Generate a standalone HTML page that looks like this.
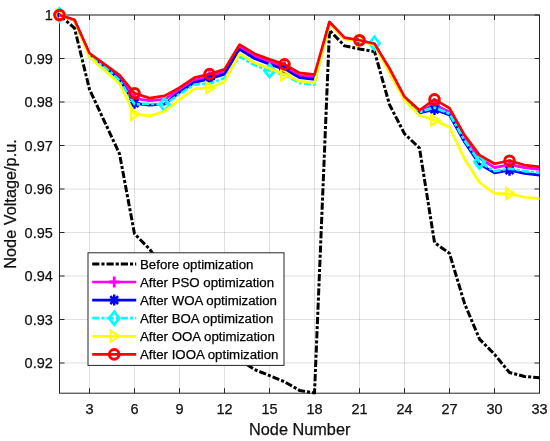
<!DOCTYPE html>
<html><head><meta charset="utf-8"><title>Node Voltage</title>
<style>
html,body{margin:0;padding:0;background:#fff;}
body{width:550px;height:441px;overflow:hidden;}
svg{display:block;}
text{font-family:"Liberation Sans",Arial,Helvetica,sans-serif;fill:#111;stroke:#111;stroke-width:0.25px;}
.tk{font-size:14.5px;}
.lb{font-size:16.3px;}
.lg{font-size:13.25px;fill:#000;stroke:#000;}
</style></head><body>
<svg width="550" height="441" viewBox="0 0 550 441">
<rect x="0" y="0" width="550" height="441" fill="#ffffff"/>

<path d="M89.50 15.00V393.20M134.50 15.00V393.20M179.50 15.00V393.20M224.50 15.00V393.20M269.50 15.00V393.20M314.50 15.00V393.20M359.50 15.00V393.20M404.50 15.00V393.20M449.50 15.00V393.20M494.50 15.00V393.20M539.50 15.00V393.20" stroke="#262626" stroke-opacity="0.15" stroke-width="1" fill="none"/>
<path d="M59.50 15.00H539.50M59.50 58.50H539.50M59.50 102.00H539.50M59.50 145.50H539.50M59.50 189.00H539.50M59.50 232.50H539.50M59.50 276.00H539.50M59.50 319.50H539.50M59.50 363.00H539.50" stroke="#262626" stroke-opacity="0.15" stroke-width="1" fill="none"/>
<path d="M89.50 393.20v-5.0M89.50 15.00v5.0M134.50 393.20v-5.0M134.50 15.00v5.0M179.50 393.20v-5.0M179.50 15.00v5.0M224.50 393.20v-5.0M224.50 15.00v5.0M269.50 393.20v-5.0M269.50 15.00v5.0M314.50 393.20v-5.0M314.50 15.00v5.0M359.50 393.20v-5.0M359.50 15.00v5.0M404.50 393.20v-5.0M404.50 15.00v5.0M449.50 393.20v-5.0M449.50 15.00v5.0M494.50 393.20v-5.0M494.50 15.00v5.0M539.50 393.20v-5.0M539.50 15.00v5.0M59.50 15.00h5.0M539.50 15.00h-5.0M59.50 58.50h5.0M539.50 58.50h-5.0M59.50 102.00h5.0M539.50 102.00h-5.0M59.50 145.50h5.0M539.50 145.50h-5.0M59.50 189.00h5.0M539.50 189.00h-5.0M59.50 232.50h5.0M539.50 232.50h-5.0M59.50 276.00h5.0M539.50 276.00h-5.0M59.50 319.50h5.0M539.50 319.50h-5.0M59.50 363.00h5.0M539.50 363.00h-5.0" stroke="#262626" stroke-width="1" fill="none"/>
<rect x="59.5" y="15.0" width="480.0" height="378.2" stroke="#262626" stroke-width="1" fill="none"/>
<clipPath id="ax"><rect x="58.0" y="13.5" width="483.0" height="381.2"/></clipPath>
<polyline points="59.50,15.00 74.50,28.05 89.50,89.39 104.50,121.57 119.50,153.77 134.50,233.81 149.50,249.03 164.50,270.34 179.50,297.31 194.50,322.98 209.50,326.46 224.50,332.99 239.50,359.52 254.50,369.53 269.50,375.61 284.50,381.71 299.50,390.41 314.50,393.01 329.50,30.22 344.50,45.88 359.50,48.93 374.50,51.54 389.50,104.61 404.50,133.75 419.50,148.11 434.50,242.51 449.50,253.38 464.50,303.41 479.50,339.08 494.50,354.30 509.50,372.57 524.50,376.48 539.50,377.79" stroke="#000000" stroke-width="3.0" fill="none" stroke-linejoin="round" stroke-dasharray="7.2 2 3.1 2" clip-path="url(#ax)"/>
<polyline points="59.50,15.00 74.50,20.22 89.50,54.15 104.50,65.02 119.50,77.20 134.50,98.52 149.50,100.70 164.50,99.39 179.50,90.25 194.50,80.25 209.50,76.77 224.50,71.98 239.50,47.19 254.50,56.32 269.50,61.98 284.50,66.77 299.50,75.47 314.50,77.20 329.50,22.40 344.50,38.05 359.50,40.67 374.50,44.15 389.50,69.81 404.50,97.65 419.50,111.57 434.50,104.61 449.50,112.00 464.50,138.54 479.50,158.12 494.50,167.69 509.50,164.64 524.50,167.69 539.50,169.42" stroke="#ff00ff" stroke-width="2.7" fill="none" stroke-linejoin="round" clip-path="url(#ax)"/>
<path d="M54.10 15.00H64.90M59.50 9.60V20.40" stroke="#ff00ff" stroke-width="2.8" fill="none"/>
<path d="M129.10 98.52H139.90M134.50 93.12V103.92" stroke="#ff00ff" stroke-width="2.8" fill="none"/>
<path d="M204.10 76.77H214.90M209.50 71.37V82.17" stroke="#ff00ff" stroke-width="2.8" fill="none"/>
<path d="M279.10 66.77H289.90M284.50 61.37V72.17" stroke="#ff00ff" stroke-width="2.8" fill="none"/>
<path d="M354.10 40.67H364.90M359.50 35.27V46.07" stroke="#ff00ff" stroke-width="2.8" fill="none"/>
<path d="M429.10 104.61H439.90M434.50 99.21V110.01" stroke="#ff00ff" stroke-width="2.8" fill="none"/>
<path d="M504.10 164.64H514.90M509.50 159.24V170.04" stroke="#ff00ff" stroke-width="2.8" fill="none"/>
<polyline points="59.50,15.00 74.50,20.22 89.50,55.02 104.50,66.33 119.50,79.38 134.50,103.30 149.50,105.05 164.50,104.17 179.50,92.43 194.50,82.42 209.50,78.95 224.50,74.16 239.50,49.37 254.50,58.50 269.50,64.15 284.50,69.37 299.50,77.64 314.50,79.38 329.50,22.83 344.50,38.49 359.50,40.67 374.50,44.15 389.50,70.68 404.50,98.52 419.50,112.87 434.50,109.40 449.50,115.05 464.50,142.02 479.50,164.20 494.50,172.91 509.50,170.29 524.50,173.34 539.50,175.08" stroke="#0000ff" stroke-width="2.7" fill="none" stroke-linejoin="round" clip-path="url(#ax)"/>
<path d="M54.00 15.00H65.00M59.50 9.50V20.50M55.60 11.10L63.40 18.90M55.60 18.90L63.40 11.10" stroke="#0000ff" stroke-width="2.5" fill="none"/>
<path d="M129.00 103.30H140.00M134.50 97.80V108.80M130.60 99.40L138.40 107.20M130.60 107.20L138.40 99.40" stroke="#0000ff" stroke-width="2.5" fill="none"/>
<path d="M204.00 78.95H215.00M209.50 73.45V84.45M205.60 75.05L213.40 82.85M205.60 82.85L213.40 75.05" stroke="#0000ff" stroke-width="2.5" fill="none"/>
<path d="M279.00 69.37H290.00M284.50 63.87V74.87M280.60 65.47L288.40 73.27M280.60 73.27L288.40 65.47" stroke="#0000ff" stroke-width="2.5" fill="none"/>
<path d="M354.00 40.67H365.00M359.50 35.17V46.17M355.60 36.77L363.40 44.57M355.60 44.57L363.40 36.77" stroke="#0000ff" stroke-width="2.5" fill="none"/>
<path d="M429.00 109.40H440.00M434.50 103.90V114.90M430.60 105.50L438.40 113.30M430.60 113.30L438.40 105.50" stroke="#0000ff" stroke-width="2.5" fill="none"/>
<path d="M504.00 170.29H515.00M509.50 164.79V175.79M505.60 166.39L513.40 174.19M505.60 174.19L513.40 166.39" stroke="#0000ff" stroke-width="2.5" fill="none"/>
<polyline points="59.50,15.00 74.50,20.22 89.50,55.02 104.50,66.77 119.50,80.25 134.50,104.17 149.50,103.74 164.50,104.61 179.50,94.17 194.50,84.60 209.50,83.73 224.50,78.07 239.50,56.76 254.50,65.02 269.50,70.68 284.50,75.03 299.50,82.86 314.50,84.60 329.50,22.83 344.50,38.49 359.50,40.67 374.50,43.27 389.50,70.68 404.50,98.52 419.50,112.00 434.50,107.65 449.50,113.75 464.50,140.28 479.50,162.03 494.50,171.17 509.50,168.55 524.50,171.17 539.50,172.47" stroke="#00ffff" stroke-width="2.7" fill="none" stroke-linejoin="round" stroke-dasharray="7.2 2 3.1 2" clip-path="url(#ax)"/>
<path d="M59.50 8.50L64.60 15.00L59.50 21.50L54.40 15.00Z" stroke="#00ffff" stroke-width="2.7" fill="none" stroke-linejoin="miter"/>
<path d="M164.50 98.11L169.60 104.61L164.50 111.11L159.40 104.61Z" stroke="#00ffff" stroke-width="2.7" fill="none" stroke-linejoin="miter"/>
<path d="M269.50 64.18L274.60 70.68L269.50 77.18L264.40 70.68Z" stroke="#00ffff" stroke-width="2.7" fill="none" stroke-linejoin="miter"/>
<path d="M374.50 36.77L379.60 43.27L374.50 49.77L369.40 43.27Z" stroke="#00ffff" stroke-width="2.7" fill="none" stroke-linejoin="miter"/>
<path d="M479.50 155.53L484.60 162.03L479.50 168.53L474.40 162.03Z" stroke="#00ffff" stroke-width="2.7" fill="none" stroke-linejoin="miter"/>
<polyline points="59.50,15.00 74.50,20.22 89.50,57.20 104.50,70.25 119.50,83.73 134.50,114.18 149.50,115.92 164.50,111.57 179.50,99.39 194.50,88.95 209.50,87.65 224.50,81.99 239.50,53.72 254.50,62.85 269.50,68.50 284.50,74.60 299.50,81.12 314.50,82.86 329.50,23.70 344.50,38.92 359.50,41.10 374.50,44.58 389.50,72.85 404.50,100.26 419.50,115.49 434.50,120.27 449.50,127.23 464.50,158.99 479.50,182.47 494.50,193.35 509.50,193.79 524.50,197.27 539.50,198.57" stroke="#ffff00" stroke-width="2.7" fill="none" stroke-linejoin="round" clip-path="url(#ax)"/>
<path d="M56.20 9.50L64.50 15.00L56.20 20.50Z" stroke="#ffff00" stroke-width="2.2" fill="none" stroke-linejoin="miter"/>
<path d="M131.20 108.68L139.50 114.18L131.20 119.68Z" stroke="#ffff00" stroke-width="2.2" fill="none" stroke-linejoin="miter"/>
<path d="M206.20 82.15L214.50 87.65L206.20 93.15Z" stroke="#ffff00" stroke-width="2.2" fill="none" stroke-linejoin="miter"/>
<path d="M281.20 69.10L289.50 74.60L281.20 80.10Z" stroke="#ffff00" stroke-width="2.2" fill="none" stroke-linejoin="miter"/>
<path d="M356.20 35.60L364.50 41.10L356.20 46.60Z" stroke="#ffff00" stroke-width="2.2" fill="none" stroke-linejoin="miter"/>
<path d="M431.20 114.77L439.50 120.27L431.20 125.77Z" stroke="#ffff00" stroke-width="2.2" fill="none" stroke-linejoin="miter"/>
<path d="M506.20 188.29L514.50 193.79L506.20 199.29Z" stroke="#ffff00" stroke-width="2.2" fill="none" stroke-linejoin="miter"/>
<polyline points="59.50,15.00 74.50,19.78 89.50,53.28 104.50,64.15 119.50,75.03 134.50,93.30 149.50,98.09 164.50,95.91 179.50,87.65 194.50,77.64 209.50,74.16 224.50,69.37 239.50,44.58 254.50,53.72 269.50,59.37 284.50,64.37 299.50,72.85 314.50,74.60 329.50,21.96 344.50,37.62 359.50,40.23 374.50,43.71 389.50,68.50 404.50,96.78 419.50,110.27 434.50,99.39 449.50,108.09 464.50,135.06 479.50,155.07 494.50,163.77 509.50,160.72 524.50,165.07 539.50,166.82" stroke="#ff0000" stroke-width="2.7" fill="none" stroke-linejoin="round" clip-path="url(#ax)"/>
<circle cx="59.50" cy="15.00" r="4.8" stroke="#ff0000" stroke-width="3.0" fill="none"/>
<circle cx="134.50" cy="93.30" r="4.8" stroke="#ff0000" stroke-width="3.0" fill="none"/>
<circle cx="209.50" cy="74.16" r="4.8" stroke="#ff0000" stroke-width="3.0" fill="none"/>
<circle cx="284.50" cy="64.37" r="4.8" stroke="#ff0000" stroke-width="3.0" fill="none"/>
<circle cx="359.50" cy="40.23" r="4.8" stroke="#ff0000" stroke-width="3.0" fill="none"/>
<circle cx="434.50" cy="99.39" r="4.8" stroke="#ff0000" stroke-width="3.0" fill="none"/>
<circle cx="509.50" cy="160.72" r="4.8" stroke="#ff0000" stroke-width="3.0" fill="none"/>
<text class="tk" x="89.50" y="414.3" text-anchor="middle">3</text>
<text class="tk" x="134.50" y="414.3" text-anchor="middle">6</text>
<text class="tk" x="179.50" y="414.3" text-anchor="middle">9</text>
<text class="tk" x="224.50" y="414.3" text-anchor="middle">12</text>
<text class="tk" x="269.50" y="414.3" text-anchor="middle">15</text>
<text class="tk" x="314.50" y="414.3" text-anchor="middle">18</text>
<text class="tk" x="359.50" y="414.3" text-anchor="middle">21</text>
<text class="tk" x="404.50" y="414.3" text-anchor="middle">24</text>
<text class="tk" x="449.50" y="414.3" text-anchor="middle">27</text>
<text class="tk" x="494.50" y="414.3" text-anchor="middle">30</text>
<text class="tk" x="539.50" y="414.3" text-anchor="middle">33</text>
<text class="tk" x="52.8" y="20.20" text-anchor="end">1</text>
<text class="tk" x="52.8" y="63.70" text-anchor="end">0.99</text>
<text class="tk" x="52.8" y="107.20" text-anchor="end">0.98</text>
<text class="tk" x="52.8" y="150.70" text-anchor="end">0.97</text>
<text class="tk" x="52.8" y="194.20" text-anchor="end">0.96</text>
<text class="tk" x="52.8" y="237.70" text-anchor="end">0.95</text>
<text class="tk" x="52.8" y="281.20" text-anchor="end">0.94</text>
<text class="tk" x="52.8" y="324.70" text-anchor="end">0.93</text>
<text class="tk" x="52.8" y="368.20" text-anchor="end">0.92</text>
<text class="lb" x="299.7" y="435.4" text-anchor="middle">Node Number</text>
<text class="lb" transform="translate(16.2,204) rotate(-90)" text-anchor="middle">Node Voltage/p.u.</text>
<rect x="88" y="252.8" width="196" height="112.59999999999997" fill="#ffffff" stroke="#262626" stroke-width="1"/>
<path d="M92.2 263.90H136.2" stroke="#000000" stroke-width="3.0" fill="none" stroke-dasharray="7.2 2 3.1 2"/>
<text class="lg" x="140" y="268.60">Before optimization</text>
<path d="M92.2 282.00H136.2" stroke="#ff00ff" stroke-width="2.7" fill="none"/>
<path d="M108.80 282.00H119.60M114.20 276.60V287.40" stroke="#ff00ff" stroke-width="2.8" fill="none"/>
<text class="lg" x="140" y="286.70">After PSO optimization</text>
<path d="M92.2 300.10H136.2" stroke="#0000ff" stroke-width="2.7" fill="none"/>
<path d="M108.70 300.10H119.70M114.20 294.60V305.60M110.30 296.20L118.10 304.00M110.30 304.00L118.10 296.20" stroke="#0000ff" stroke-width="2.5" fill="none"/>
<text class="lg" x="140" y="304.80">After WOA optimization</text>
<path d="M92.2 318.20H136.2" stroke="#00ffff" stroke-width="2.7" fill="none" stroke-dasharray="7.2 2 3.1 2"/>
<path d="M114.20 311.70L119.30 318.20L114.20 324.70L109.10 318.20Z" stroke="#00ffff" stroke-width="2.7" fill="none" stroke-linejoin="miter"/>
<text class="lg" x="140" y="322.90">After BOA optimization</text>
<path d="M92.2 336.30H136.2" stroke="#ffff00" stroke-width="2.7" fill="none"/>
<path d="M110.90 330.80L119.20 336.30L110.90 341.80Z" stroke="#ffff00" stroke-width="2.2" fill="none" stroke-linejoin="miter"/>
<text class="lg" x="140" y="341.00">After OOA optimization</text>
<path d="M92.2 354.40H136.2" stroke="#ff0000" stroke-width="2.7" fill="none"/>
<circle cx="114.20" cy="354.40" r="4.8" stroke="#ff0000" stroke-width="3.0" fill="none"/>
<text class="lg" x="140" y="359.10">After IOOA optimization</text>
</svg></body></html>
